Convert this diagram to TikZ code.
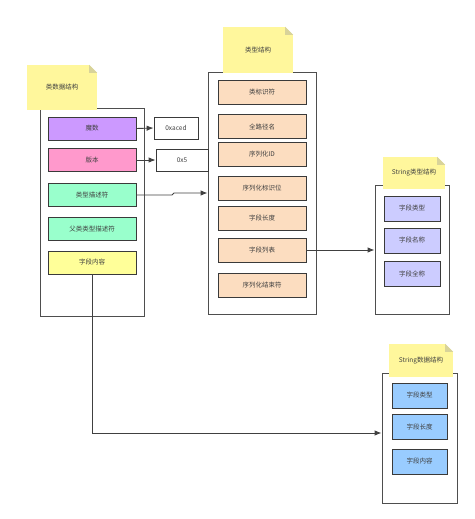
\documentclass[tikz,border=0pt]{standalone}
\usepackage{fontspec}
\setmainfont{Noto Sans CJK SC}
\usetikzlibrary{calc,arrows.meta}
\definecolor{notey}{HTML}{FFF79C}
\definecolor{notefold}{HTML}{D8D39A}
\definecolor{boxline}{HTML}{3A3A3A}
\definecolor{magic}{HTML}{CC99FF}
\definecolor{ver}{HTML}{FF99CC}
\definecolor{mint}{HTML}{99FFCC}
\definecolor{lemon}{HTML}{FFFF99}
\definecolor{peach}{HTML}{FCDDC0}
\definecolor{lilac}{HTML}{CCCCFF}
\definecolor{sky}{HTML}{99CCFF}
\tikzset{
  frame/.style={draw=boxline!90,line width=0.9pt,fill=white,minimum width=#1},
  field/.style={draw=boxline,line width=0.8pt,text=black!75,inner sep=0pt,
    minimum height=24pt,font=\fontsize{6.5}{7.5}\selectfont},
  notebox/.style={fill=notey,inner sep=0pt,text=black!75,font=\fontsize{6.5}{7.5}\selectfont},
  link/.style={draw=black!75,line width=0.9pt,-{Latex[length=7pt,width=5.5pt]}},
}
\begin{document}
\begin{tikzpicture}[x=1pt,y=-1pt]
\useasboundingbox (0,0) rectangle (474,519);

% containers
\node [frame=104pt,minimum height=208pt] (ld) at (92,212) {};
\node [frame=108pt,minimum height=242pt] (tc) at (262,193) {};
\node [frame=74pt,minimum height=129pt] (st) at (412,249.5) {};
\node [frame=75pt,minimum height=130pt] (sd) at (419.5,438) {};

% notes
\node [notebox,minimum width=70pt,minimum height=45pt] (n1) at (62,87.5) {类数据结构};
\node [notebox,minimum width=70pt,minimum height=46pt] (n2) at (258,50) {类型结构};
\node [notebox,minimum width=62pt,minimum height=32pt] (n3) at (414,173) {String类型结构};
\node [notebox,minimum width=64pt,minimum height=33pt] (n4) at (421,360.5) {String数据结构};
\foreach \n in {n1,n2,n3,n4} {
  \fill [white] ($(\n.north east)+(-8,0)$) -- (\n.north east) -- ($(\n.north east)+(0,8)$) -- cycle;
  \fill [notefold] ($(\n.north east)+(-8,0)$) -- ($(\n.north east)+(0,8)$) -- ($(\n.north east)+(-8,8)$) -- cycle;
}

% class data
\node [field,fill=magic,minimum width=88pt,minimum height=23pt] (ld1) at (92,128.5) {魔数};
\node [field,fill=ver,minimum width=88pt,minimum height=23pt] (ld2) at (92,160) {版本};
\node [field,fill=mint,minimum width=88pt,minimum height=23pt] (ld3) at (92,195) {类型描述符};
\node [field,fill=mint,minimum width=88pt,minimum height=23pt] (ld4) at (92,229) {父类类型描述符};
\node [field,fill=lemon,minimum width=88pt,minimum height=23pt] (ld5) at (92,262.5) {字段内容};

\node [field,fill=white,minimum width=44pt,minimum height=22pt] (hex1) at (176,128) {0xaced};
\node [field,fill=white,minimum width=52pt,minimum height=22pt] (hex2) at (182,160) {0x5};

% type structure
\node [field,fill=peach,minimum width=88pt] (tf1) at (262,92) {类标识符};
\node [field,fill=peach,minimum width=88pt] (tf2) at (262,126.5) {全路径名};
\node [field,fill=peach,minimum width=88pt] (tf3) at (262,154.5) {序列化ID};
\node [field,fill=peach,minimum width=88pt] (tf4) at (262,188) {序列化标识位};
\node [field,fill=peach,minimum width=88pt] (tf5) at (262,218) {字段长度};
\node [field,fill=peach,minimum width=88pt] (tf6) at (262,250) {字段列表};
\node [field,fill=peach,minimum width=88pt] (tf7) at (262,285) {序列化结束符};

% string type
\node [field,fill=lilac,minimum width=56pt,minimum height=25pt] (st1) at (412,208.5) {字段类型};
\node [field,fill=lilac,minimum width=56pt,minimum height=25pt] (st2) at (412,240.5) {字段名称};
\node [field,fill=lilac,minimum width=56pt,minimum height=25pt] (st3) at (412,274) {字段全称};

% string data
\node [field,fill=sky,minimum width=55pt,minimum height=25pt] (sd1) at (419.5,395.5) {字段类型};
\node [field,fill=sky,minimum width=55pt,minimum height=25pt] (sd2) at (419.5,427) {字段长度};
\node [field,fill=sky,minimum width=55pt,minimum height=25pt] (sd3) at (419.5,461.5) {字段内容};

% links
\coordinate (jog) at (174,193);
\draw [link] (ld1.east) -- (hex1.west);
\draw [link] (ld2.east) -- (hex2.west);
\draw [link] (ld3.east) -- (172,195) -- (jog) -- (jog -| tc.west);
\draw [link] (tf6.east) -- (tf6.east -| st.west);
\draw [link] (ld5.south) |- ($(sd.west)+(0,-5)$);

\end{tikzpicture}
\end{document}
